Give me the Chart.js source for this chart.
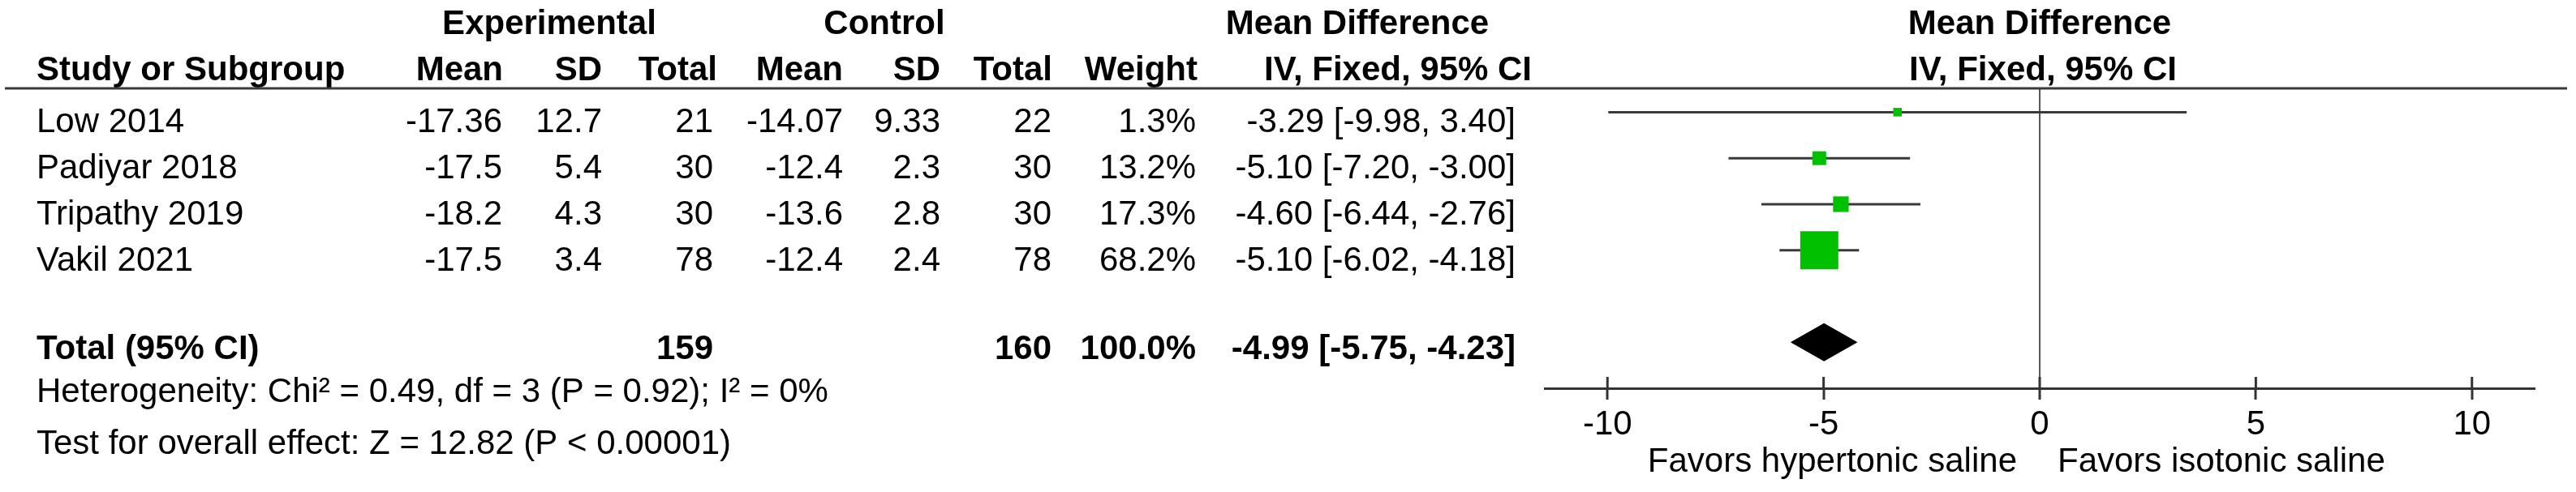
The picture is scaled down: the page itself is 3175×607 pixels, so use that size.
<!DOCTYPE html>
<html>
<head>
<meta charset="utf-8">
<title>Forest plot</title>
<script src="https://cdn.jsdelivr.net/npm/chart.js@4.4.1/dist/chart.umd.min.js"></script>
<style>
  html, body { margin: 0; padding: 0; background: #fff; }
  #wrap { width: 3175px; height: 607px; position: relative; }
</style>
</head>
<body>
<div id="wrap"><canvas id="forest" width="3175" height="607"></canvas></div>
<script>
// study data
const studies = ["Low 2014", "Padiyar 2018", "Tripathy 2019", "Vakil 2021"];
const expMean = [-17.36, -17.5, -18.2, -17.5];
const expSD = [12.7, 5.4, 4.3, 3.4];
const expTotal = [21, 30, 30, 78];
const ctlMean = [-14.07, -12.4, -13.6, -12.4];
const ctlSD = [9.33, 2.3, 2.8, 2.4];
const ctlTotal = [22, 30, 30, 78];
const weights = [1.3, 13.2, 17.3, 68.2];
const meanDiff = [-3.29, -5.10, -4.60, -5.10];
const ciLow = [-9.98, -7.20, -6.44, -6.02];
const ciHigh = [3.40, -3.00, -2.76, -4.18];

// pooled
const totalExp = 159;
const totalCtl = 160;
const totalWeight = 100.0;
const pooled = [-4.99, -5.75, -4.23]; // estimate, low, high
const heterogeneity = ["0.49", "3", "0.92", "0"]; // chi2, df, P, I2
const overall = ["12.82", "0.00001"]; // Z, P

const tickValues = [-10, -5, 0, 5, 10];
const favorLabels = ["Favors hypertonic saline", "Favors isotonic saline"];

// layout (pixels)
const FONT = "'Liberation Sans', Arial, sans-serif";
const totalRow = 5;
const hdrRight = [620, 742, 884, 1039, 1159, 1297, 1476, 1888];
const valRight = [619, 742, 879, 1039, 1159, 1296, 1474, 1868];

function fmtCI(m, lo, hi) {
  return m.toFixed(2) + " [" + lo.toFixed(2) + ", " + hi.toFixed(2) + "]";
}

const tablePlugin = {
  id: "table",
  afterDraw(chart) {
    const ctx = chart.ctx;
    const x = chart.scales.x;
    const y = chart.scales.y;
    ctx.save();
    ctx.fillStyle = "#000";
    ctx.textBaseline = "alphabetic";

    const bold = "bold 42px " + FONT;
    const reg = "42px " + FONT;

    // group headers
    ctx.font = bold;
    ctx.textAlign = "center";
    ctx.fillText("Experimental", 677, 42);
    ctx.fillText("Control", 1090, 42);
    ctx.fillText("Mean Difference", 1673, 42);
    ctx.fillText("Mean Difference", x.getPixelForValue(0), 42);
    ctx.fillText("IV, Fixed, 95% CI", x.getPixelForValue(0) + 4, 99);

    ctx.textAlign = "left";
    ctx.fillText("Study or Subgroup", 45, 99);
    ctx.textAlign = "right";
    const heads = ["Mean", "SD", "Total", "Mean", "SD", "Total", "Weight", "IV, Fixed, 95% CI"];
    heads.forEach((h, k) => ctx.fillText(h, hdrRight[k], 99));

    // header rule
    ctx.strokeStyle = "#3a3a3a";
    ctx.lineWidth = 3;
    ctx.beginPath();
    ctx.moveTo(6, 109);
    ctx.lineTo(3164, 109);
    ctx.stroke();

    // study rows
    ctx.font = reg;
    studies.forEach((s, i) => {
      const by = y.getPixelForValue(i) + 25;
      ctx.textAlign = "left";
      ctx.fillText(s, 45, by);
      ctx.textAlign = "right";
      const cells = [
        String(expMean[i]), String(expSD[i]), String(expTotal[i]),
        String(ctlMean[i]), String(ctlSD[i]), String(ctlTotal[i]),
        weights[i].toFixed(1) + "%", fmtCI(meanDiff[i], ciLow[i], ciHigh[i])
      ];
      cells.forEach((c, k) => ctx.fillText(c, valRight[k], by));
    });

    // total row
    ctx.font = bold;
    const ty = y.getPixelForValue(totalRow) + 21;
    ctx.textAlign = "left";
    ctx.fillText("Total (95% CI)", 45, ty);
    ctx.textAlign = "right";
    ctx.fillText(String(totalExp), valRight[2], ty);
    ctx.fillText(String(totalCtl), valRight[5], ty);
    ctx.fillText(totalWeight.toFixed(1) + "%", valRight[6], ty);
    ctx.fillText(fmtCI(pooled[0], pooled[1], pooled[2]), valRight[7], ty);

    // footnotes
    ctx.font = reg;
    ctx.textAlign = "left";
    ctx.fillText("Heterogeneity: Chi\u00b2 = " + heterogeneity[0] + ", df = " + heterogeneity[1] +
      " (P = " + heterogeneity[2] + "); I\u00b2 = " + heterogeneity[3] + "%", 45, 496);
    ctx.fillText("Test for overall effect: Z = " + overall[0] + " (P < " + overall[1] + ")", 45, 560);

    // ticks above the axis line
    ctx.strokeStyle = "#333";
    ctx.lineWidth = 3;
    tickValues.forEach(v => {
      const px = x.getPixelForValue(v);
      ctx.beginPath();
      ctx.moveTo(px, x.top - 14);
      ctx.lineTo(px, x.top);
      ctx.stroke();
    });

    // favours labels
    const zero = x.getPixelForValue(0);
    ctx.textAlign = "right";
    ctx.fillText(favorLabels[0], zero - 28, 582);
    ctx.textAlign = "left";
    ctx.fillText(favorLabels[1], zero + 22, 582);
    ctx.restore();
  }
};

const datasets = [];

// squares sized by weight
datasets.push({
  data: studies.map((s, i) => ({ x: meanDiff[i], y: i })),
  pointStyle: "rect",
  pointRadius: weights.map(w => (9.8 + 0.545 * w) / Math.SQRT2),
  pointHoverRadius: weights.map(w => (9.8 + 0.545 * w) / Math.SQRT2),
  backgroundColor: "#00c000",
  borderWidth: 0,
  order: 0
});

// confidence interval lines
studies.forEach((s, i) => {
  datasets.push({
    data: [{ x: ciLow[i], y: i }, { x: ciHigh[i], y: i }],
    showLine: true,
    borderColor: "#3a3a3a",
    borderWidth: 3,
    pointRadius: 0,
    order: 2
  });
});

// pooled diamond
const dh = 0.405;
datasets.push({
  data: [
    { x: pooled[1], y: totalRow },
    { x: pooled[0], y: totalRow - dh },
    { x: pooled[2], y: totalRow },
    { x: pooled[0], y: totalRow + dh },
    { x: pooled[1], y: totalRow }
  ],
  showLine: true,
  fill: "shape",
  tension: 0,
  borderColor: "#000",
  backgroundColor: "#000",
  borderWidth: 1,
  pointRadius: 0,
  order: 1
});

new Chart(document.getElementById("forest"), {
  type: "scatter",
  data: { datasets },
  options: {
    responsive: false,
    animation: false,
    devicePixelRatio: 1,
    layout: { padding: { left: 1904, right: 51, top: 110, bottom: 0 } },
    plugins: { legend: { display: false }, tooltip: { enabled: false } },
    scales: {
      x: {
        type: "linear",
        min: -11.45,
        max: 11.45,
        afterBuildTicks: s => { s.ticks = tickValues.map(v => ({ value: v })); },
        afterFit: s => { s.height = 128; },
        border: { display: true, color: "#333", width: 3 },
        grid: {
          drawOnChartArea: true,
          color: c => (c.tick && c.tick.value === 0) ? "#555" : "rgba(0,0,0,0)",
          lineWidth: 2,
          tickLength: 14,
          tickColor: "#333",
          tickWidth: 3
        },
        ticks: {
          color: "#000",
          font: { family: FONT, size: 42 },
          padding: 6,
          autoSkip: false,
          maxRotation: 0,
          callback: v => String(v)
        }
      },
      y: { type: "linear", reverse: true, min: -0.5, max: 6.0, display: false }
    }
  },
  plugins: [tablePlugin]
});
</script>
</body>
</html>
